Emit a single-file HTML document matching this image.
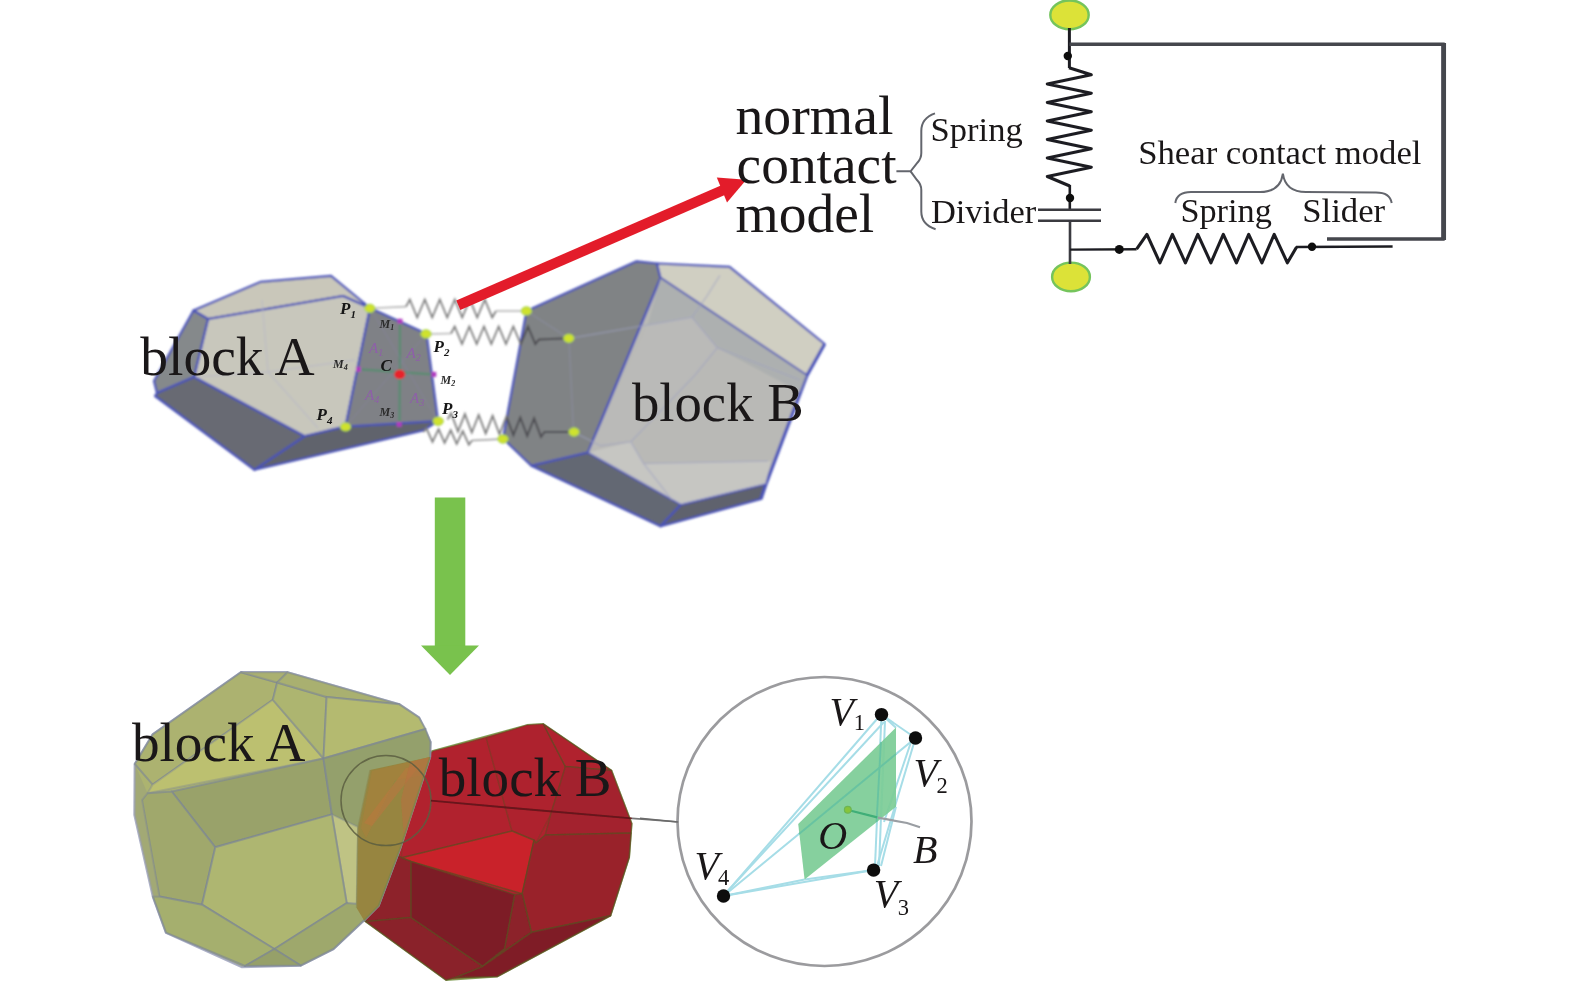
<!DOCTYPE html>
<html lang="en">
<head>
<meta charset="utf-8">
<title>Block contact model</title>
<style>
html,body{margin:0;padding:0;background:#fff;}
body{width:1575px;height:983px;overflow:hidden;position:relative;}
svg{position:absolute;left:0;top:0;display:block;}
text{font-family:"Liberation Serif","Times New Roman",serif;fill:#1a1718;}
.big{font-size:55.5px;}
.mid{font-size:34.5px;}
.vi{font-size:40px;font-style:italic;}
.sub{font-size:22.5px;font-style:normal;}
.tiny{font-size:17px;font-style:italic;font-weight:bold;fill:#151515;}
.tinym{font-size:12px;font-style:italic;font-weight:bold;fill:#2a2a2a;}
.pa{font-size:15px;font-style:italic;fill:#9355b3;opacity:.8;}
</style>
</head>
<body>
<svg width="1575" height="983" viewBox="0 0 1575 983">
<defs>
<filter id="b1" x="-5%" y="-5%" width="110%" height="110%"><feGaussianBlur stdDeviation="0.9"/></filter>
<filter id="b2" x="-5%" y="-5%" width="110%" height="110%"><feGaussianBlur stdDeviation="0.7"/></filter>
<filter id="b3" x="-5%" y="-5%" width="110%" height="110%"><feGaussianBlur stdDeviation="0.5"/></filter>
</defs>
<rect width="1575" height="983" fill="#ffffff"/>

<g filter="url(#b1)" stroke-linejoin="round">
<g stroke="#4a52b8" stroke-width="2.2">
<polygon points="193.5,310.5 261,281.8 331,275.9 370,308 343,296 208,319" fill="#c9c7ba"/>
<polygon points="208,319 343,296 370,308 345.5,426.5 304.5,436.3 194,377" fill="#c8c7bc"/>
<polygon points="193.5,310.5 208,319 194,377 157,393 154,381" fill="#85898b"/>
<polygon points="157,393 194,377 304.5,436.3 254.5,469.8 155,396" fill="#676a73"/>
<polygon points="304.5,436.3 345.5,426.5 438,421 423,430.5 254.5,469.8" fill="#60636c"/>
<polygon points="370,308 426.5,333.8 438,421 345.5,426.5" fill="#7f8186"/>
</g>
<g stroke="#b9b9c6" stroke-width="1.4" fill="none" opacity=".7"><path d="M262,300 L268,372 L196,377"/><path d="M268,372 L318,428"/><path d="M268,372 L355,360"/></g>
<g stroke="#4a52b8" stroke-width="2.2">
<polygon points="526.5,311 636.6,261.3 657,263.5 660.5,278 588,452.5 531.4,465.7 503,438.5" fill="#808385"/>
<polygon points="657,263.5 729.5,266.8 824.6,344 806.7,375.3 660.5,278" fill="#d0cfc2"/>
<polygon points="660.5,278 806.7,375.3 765.7,484 681,504.6 588,452.5" fill="#b9b9b6"/>
<polygon points="531.4,465.7 588,452.5 681,504.6 660.6,526.3" fill="#646873"/>
<polygon points="681,504.6 765.7,484 761,499 660.6,526.3" fill="#5f626d"/>
<polyline points="824.6,344 806.7,376 765.7,485 761,499" fill="none" stroke-width="3.2"/>
</g>
<clipPath id="cBf"><polygon points="660.5,278 806.7,375.3 765.7,484 681,504.6 588,452.5"/></clipPath>
<g clip-path="url(#cBf)" stroke="none">
<polygon points="660.5,278 806.7,375.3 800,392 717.3,347.7 691.9,317.2 647.4,324.9" fill="#a9adae" opacity=".75"/>
<polygon points="588,452.5 630.9,441.8 643.6,463.5 770.7,460.9 765.7,484 681,504.6" fill="#cbcbc5" opacity=".75"/>
<polygon points="588,452.5 600.3,445.7 630.9,441.8 694.4,375.7 717.3,347.7 691.9,317.2 647.4,324.9" fill="#bcbcb9" opacity=".5"/>
</g>
<g stroke="#9fa2c0" stroke-width="1.5" fill="none" opacity=".55">
<path d="M569,338.4 L647.4,324.9 L691.9,317.2 L717.3,347.7 L694.4,375.7 L630.9,441.8 L600.3,445.7 L573.5,432"/>
<path d="M630.9,441.8 L643.6,463.5 L768,460.9"/>
<path d="M717.3,347.7 L800,380"/>
<path d="M719.9,275.3 L707.2,295.6 L691.9,317.2"/>
<path d="M643.6,463.5 L672,500"/>
</g>
<g stroke="#8f92aa" stroke-width="1.4" fill="none" opacity=".5">
<path d="M526.5,311 L569,338.4 L573.5,432"/>
</g>
<g stroke="#4f8f6c" stroke-width="2" fill="none" opacity=".9"><path d="M400,321.3 L399.5,424.3"/><path d="M358.5,369.3 L433.8,374.4"/></g>
<g stroke="#8a84a8" stroke-width="1" opacity=".45" fill="none"><path d="M370,308 L438,421 M426.5,333.8 L345.5,426.5"/></g>
<rect x="397.5" y="318.8" width="5" height="5" fill="#b03ac0"/>
<rect x="356.0" y="366.8" width="5" height="5" fill="#b03ac0"/>
<rect x="431.3" y="371.9" width="5" height="5" fill="#b03ac0"/>
<rect x="396.7" y="421.8" width="5" height="5" fill="#b03ac0"/>
<ellipse cx="399.7" cy="374.4" rx="5.5" ry="4.6" fill="#e8212a"/>
<polyline points="372.0,308.2 406.0,306.6" fill="none" stroke="#b5b5b5" stroke-width="1.6" opacity="1" stroke-linejoin="miter"/>
<polyline points="406.0,306.6 409.8,299.5 417.2,317.5 424.8,299.5 432.2,317.5 439.8,299.5 447.2,317.5 454.8,299.5 462.2,317.5 469.8,299.5 477.2,317.5 484.8,299.5 492.2,317.5 496.0,311.0" fill="none" stroke="#7d7d7d" stroke-width="1.8" opacity="1" stroke-linejoin="miter"/>
<polyline points="496.0,311.0 526.4,311.0" fill="none" stroke="#b5b5b5" stroke-width="1.6" opacity="1" stroke-linejoin="miter"/>
<polyline points="428.0,334.0 451.0,333.5" fill="none" stroke="#b5b5b5" stroke-width="1.6" opacity="1" stroke-linejoin="miter"/>
<polyline points="451.0,333.5 454.7,326.5 462.0,344.0 469.3,326.5 476.7,344.0 484.0,326.5 491.3,344.0 498.7,326.5 506.0,344.0 513.3,326.5 520.7,344.0 528.0,326.5 535.3,344.0 539.0,339.5" fill="none" stroke="#7d7d7d" stroke-width="1.8" opacity="1" stroke-linejoin="miter"/>
<polyline points="539.0,339.5 568.8,338.3" fill="none" stroke="#777" stroke-width="1.6" opacity="1" stroke-linejoin="miter"/>
<polyline points="447.6,419.5 451.1,413.2 458.0,431.6 464.9,414.1 471.8,432.5 478.7,414.9 485.7,433.4 492.6,415.8 499.5,434.2 506.4,416.6 513.4,435.1 520.3,417.5 527.2,435.9 534.1,418.4 541.0,436.8 544.5,432.0" fill="none" stroke="#7d7d7d" stroke-width="1.8" opacity="1" stroke-linejoin="miter"/>
<polyline points="544.5,432.0 574.0,432.0" fill="none" stroke="#777" stroke-width="1.6" opacity="1" stroke-linejoin="miter"/>
<polyline points="423.4,432.0 426.4,428.2 432.5,441.8 438.6,429.2 444.6,442.8 450.7,430.2 456.7,443.8 462.8,431.2 468.9,444.8 471.9,440.5" fill="none" stroke="#7d7d7d" stroke-width="1.8" opacity="1" stroke-linejoin="miter"/>
<polyline points="471.9,440.5 503.0,439.0" fill="none" stroke="#999" stroke-width="1.6" opacity="1" stroke-linejoin="miter"/>
<clipPath id="cB"><polygon points="526.5,311 636.6,261.3 657,263.5 660.5,278 588,452.5 531.4,465.7 503,438.5"/></clipPath>
<g clip-path="url(#cB)">
<polyline points="428.0,334.0 451.0,333.5 454.7,326.5 462.0,344.0 469.3,326.5 476.7,344.0 484.0,326.5 491.3,344.0 498.7,326.5 506.0,344.0 513.3,326.5 520.7,344.0 528.0,326.5 535.3,344.0 539.0,339.5 568.8,338.3" fill="none" stroke="#4e4e52" stroke-width="2" stroke-linejoin="miter"/>
<polyline points="440.0,421.0 447.6,419.5 451.1,413.2 458.0,431.6 464.9,414.1 471.8,432.5 478.7,414.9 485.7,433.4 492.6,415.8 499.5,434.2 506.4,416.6 513.4,435.1 520.3,417.5 527.2,435.9 534.1,418.4 541.0,436.8 544.5,432.0 574.0,432.0" fill="none" stroke="#4e4e52" stroke-width="2" stroke-linejoin="miter"/>
</g>
<ellipse cx="369.8" cy="308.4" rx="5.2" ry="4.2" fill="#cfe22e" stroke="#9fd04a" stroke-width="1"/>
<ellipse cx="426.0" cy="334.0" rx="5.2" ry="4.2" fill="#cfe22e" stroke="#9fd04a" stroke-width="1"/>
<ellipse cx="438.1" cy="421.2" rx="5.2" ry="4.2" fill="#cfe22e" stroke="#9fd04a" stroke-width="1"/>
<ellipse cx="345.6" cy="426.9" rx="5.2" ry="4.2" fill="#cfe22e" stroke="#9fd04a" stroke-width="1"/>
<ellipse cx="526.4" cy="311.0" rx="5.2" ry="4.2" fill="#cfe22e" stroke="#9fd04a" stroke-width="1"/>
<ellipse cx="568.8" cy="338.3" rx="5.2" ry="4.2" fill="#cfe22e" stroke="#9fd04a" stroke-width="1"/>
<ellipse cx="574.0" cy="432.0" rx="5.2" ry="4.2" fill="#cfe22e" stroke="#9fd04a" stroke-width="1"/>
<ellipse cx="503.0" cy="439.0" rx="5.2" ry="4.2" fill="#cfe22e" stroke="#9fd04a" stroke-width="1"/>
</g>
<g filter="url(#b2)">
<text x="340.0" y="314.0" class="tiny">P<tspan dy="4" font-size="11">1</tspan></text>
<text x="433.5" y="352.0" class="tiny">P<tspan dy="4" font-size="11">2</tspan></text>
<text x="442.0" y="413.5" class="tiny">P<tspan dy="4" font-size="11">3</tspan></text>
<text x="316.5" y="419.5" class="tiny">P<tspan dy="4" font-size="11">4</tspan></text>
<text x="379.5" y="327.5" class="tinym">M<tspan dy="2" font-size="8">1</tspan></text>
<text x="440.5" y="383.5" class="tinym">M<tspan dy="2" font-size="8">2</tspan></text>
<text x="379.5" y="416.0" class="tinym">M<tspan dy="2" font-size="8">3</tspan></text>
<text x="333.0" y="368.0" class="tinym">M<tspan dy="2" font-size="8">4</tspan></text>
<text x="380.5" y="371" class="tiny" font-size="18">C</text>
<text x="369.0" y="352.5" class="pa">A<tspan dy="3" font-size="10">1</tspan></text>
<text x="406.5" y="358.0" class="pa">A<tspan dy="3" font-size="10">2</tspan></text>
<text x="410.0" y="403.0" class="pa">A<tspan dy="3" font-size="10">3</tspan></text>
<text x="365.0" y="400.0" class="pa">A<tspan dy="3" font-size="10">4</tspan></text>
</g>
<g filter="url(#b3)" fill="#e31f2a" stroke="none">
<line x1="458.3" y1="305.3" x2="724" y2="189.8" stroke="#e31f2a" stroke-width="10.2"/>
<polygon points="746.3,179.8 716.8,177.6 727,202.4"/>
</g>
<g filter="url(#b3)" fill="#79c24d">
<rect x="434.8" y="497.5" width="30.5" height="149"/>
<polygon points="421,645.5 479,645.5 450,675"/>
</g>
<g filter="url(#b2)" stroke-linejoin="round">
<g stroke="#5e4a22" stroke-width="1.5" stroke-opacity=".7">
<polygon points="370.0,770.0 432.9,750.9 527.0,725.0 543.3,724.0 611.5,770.5 631.7,823.6 629.2,857.2 610.5,915.7 497.3,976.5 446.0,980.0 364.0,920.3 356.6,908.0 357.9,827.5" fill="#ae232e" stroke="#71913f" stroke-width="1.8" stroke-opacity=".85"/>
<polygon points="432.9,750.9 486.3,738 510.2,825.5 512,831 401.6,857.7 405,800" fill="#b1242f" stroke-opacity=".25"/>
<polygon points="486.3,738 527,725 543.3,724 565.4,766.6 550.7,814.4 536,843 534,840.3 512,831" fill="#ae232e" stroke-opacity=".3"/>
<polygon points="543.3,724 611.5,770.5 565.4,766.6" fill="#b0242f"/>
<polygon points="565.4,766.6 611.5,770.5 631.7,823.6 631,833 545.2,835 550.7,814.4" fill="#a3232d" stroke-opacity=".5"/>
<polygon points="401.6,857.7 512,831 534,840.3 522.2,893.7 410.8,861.4" fill="#c9242a"/>
<polygon points="545.2,835 631,833 629.2,857.2 610.5,915.7 531.4,932.3 522.2,893.7 534,840.3 536,843" fill="#99242b"/>
<polygon points="410.8,861.4 514.8,894.6 504.7,948.9 482.6,966.4 410.8,917.6" fill="#7d1e27"/>
<polygon points="514.8,894.6 522.2,893.7 531.4,932.3 482.6,966.4 504.7,948.9" fill="#8c2029"/>
<polygon points="531.4,932.3 610.5,915.7 497.3,976.5 455,977.5 482.6,966.4" fill="#7f1e27"/>
<polygon points="401.6,857.7 410.8,861.4 410.8,917.6 366.6,921.5 356.6,908 357.9,827.5" fill="#8d2129"/>
<polygon points="366.6,921.5 410.8,917.6 482.6,966.4 455,977.5 446,980 364,920.3" fill="#8a2029"/>
</g>
<polygon points="241.0,672.3 287.5,672.3 399.3,704.3 419.0,717.5 430.5,742.0 430.0,757.0 400.6,847.0 378.6,905.6 364.0,920.3 333.5,949.0 300.7,965.5 241.6,967.0 166.0,932.7 152.9,896.5 134.5,815.0 134.8,764.0 152.7,734.4" fill="#acb370" stroke="#9da2bd" stroke-width="2.4" stroke-opacity=".85"/>
<g stroke="#7c8596" stroke-width="2" stroke-opacity=".6">
<polygon points="241.0,672.3 277.2,682.5 272.9,699.8 152.7,784.6 134.8,764.0 152.7,734.4" fill="#acb270"/>
<polygon points="241.0,672.3 287.5,672.3 277.2,682.5" fill="#aab06f" stroke-opacity=".4"/>
<polygon points="272.9,699.8 323.5,758.5 147.5,793.2 152.7,784.6" fill="#bcc070" stroke-opacity=".35"/>
<polygon points="277.2,682.5 326.6,697.0 323.5,758.5 272.9,699.8" fill="#adb570" stroke-opacity=".5"/>
<polygon points="287.5,672.3 399.3,704.3 326.6,697.0 277.2,682.5" fill="#a9b06f" stroke-opacity=".5"/>
<polygon points="326.6,697.0 399.3,704.3 419.0,717.5 425.5,729.0 323.5,758.5" fill="#b4ba70"/>
<polygon points="171.7,791.5 323.5,758.5 331.9,814.4 215.3,847.3" fill="#99a26b"/>
<polygon points="147.5,793.2 171.7,791.5 215.3,847.3 202.0,904.7 159.4,896.5 142.0,800.0" fill="#a0a86c"/>
<polygon points="323.5,758.5 425.5,729.0 430.5,742.0 430.0,757.0 400.6,847.0 378.6,905.6 346.7,903.0 331.9,814.4" fill="#94a06c"/>
<polygon points="331.9,814.4 358.0,827.0 356.6,908.0 364.0,920.3 346.7,903.0" fill="#bfc384" stroke-opacity=".35"/>
<polygon points="215.3,847.3 331.9,814.4 346.7,903.0 274.4,949.0 202.0,904.7" fill="#aeb671"/>
<polygon points="159.4,896.5 202.0,904.7 274.4,949.0 245.0,966.0 166.0,932.7 152.9,896.5" fill="#a5af6e"/>
<polygon points="274.4,949.0 346.7,903.0 378.6,905.6 364.0,920.3 333.5,949.0 300.7,965.5" fill="#9ea86c"/>
<polygon points="274.4,949.0 300.7,965.5 245.0,966.0" fill="#96a069"/>
</g>
<polygon points="134.8,764.0 134.5,815.0 152.9,896.5 159.4,896.5 142.0,800.0 147.5,793.2" fill="#9aa07a" opacity=".55"/>
<polygon points="370.0,770.0 430.0,757.0 400.6,847.0 378.6,905.6 364.0,920.3 356.6,908.0 357.9,827.5" fill="#97853f"/>
<polygon points="430,757 424,775 395,780 366,838 361,828 372,771" fill="#a5803f" opacity=".7"/>
<polygon points="406,768 420,765 372,826 364,823" fill="#b9773f" opacity=".6"/>
<polygon points="430,757 420,790 404,840 401,800 410,762" fill="#b8703f" opacity=".55"/>
<polyline points="430.0,757.0 400.6,847.0 378.6,905.6 364.0,920.3" fill="none" stroke="#7d8448" stroke-width="1.6" opacity=".8"/>
<polyline points="370.0,770.0 357.9,827.5 356.6,908.0" fill="none" stroke="#8d8f58" stroke-width="1.4" opacity=".7"/>
<circle cx="386" cy="800.6" r="45" fill="none" stroke="#5a5d40" stroke-width="1.5" opacity=".85"/>
<path d="M431,800.6 L512,808 L632,818.4" fill="none" stroke="#5c1018" stroke-width="1.9" opacity=".85"/>
<path d="M632,818.4 L679,822" fill="none" stroke="#777" stroke-width="1.6"/>
</g>
<g filter="url(#b3)">
<ellipse cx="824.5" cy="821.5" rx="147" ry="144.5" fill="none" stroke="#9b9b9e" stroke-width="2.7"/>
<line x1="640" y1="818.3" x2="678" y2="822" stroke="#6a6a6a" stroke-width="1.6"/>
<g stroke="#a6dde7" stroke-width="2" fill="none">
<path d="M877.0,719.0 L727.0,892.0"/>
<path d="M884.0,722.0 L725.0,894.0"/>
<path d="M915.5,738.0 L723.5,896.0"/>
<path d="M881.5,714.6 L915.5,738.0"/>
<path d="M881.5,714.6 L875.0,866.0"/>
<path d="M885.0,721.0 L879.0,866.0"/>
<path d="M915.5,738.0 L877.0,866.0"/>
<path d="M911.0,742.0 L884.0,822.0"/>
<path d="M873.6,870.1 L723.5,896.0"/>
<path d="M723.5,896.0 L804.6,879.4"/>
<path d="M804.6,879.4 L873.6,870.1"/>
<path d="M881.5,714.6 L896.0,727.8"/>
<path d="M896.0,806.8 L881.0,866.0"/>
</g>
<polygon points="896,727.5 896,806.8 804.6,879.4 798.2,823.9" fill="#7ccc97" fill-opacity=".93"/>
<g stroke="#5fbfa4" stroke-width="1.8" opacity=".7" fill="none">
<path d="M881.0,742.0 L876.5,822.0"/>
<path d="M896.0,754.0 L799.0,834.0"/>
</g>
<polyline points="849,810.3 877.2,817.4" fill="none" stroke="#3fae78" stroke-width="2.2"/>
<polyline points="878,817.6 907,823 920,827.2" fill="none" stroke="#9a9ea3" stroke-width="2.2"/>
<circle cx="847.8" cy="809.8" r="3.4" fill="#86c43a" stroke="#6db554" stroke-width="1.2"/>
<circle cx="881.5" cy="714.6" r="6.7" fill="#0a0a0a"/>
<circle cx="915.5" cy="738.0" r="6.7" fill="#0a0a0a"/>
<circle cx="873.6" cy="870.1" r="6.7" fill="#0a0a0a"/>
<circle cx="723.5" cy="896.0" r="6.7" fill="#0a0a0a"/>
</g>
<g filter="url(#b3)">
<ellipse cx="1069.5" cy="14.9" rx="19.2" ry="14.4" fill="#dce237" stroke="#74c45c" stroke-width="2.4"/>
<ellipse cx="1071" cy="276.9" rx="18.9" ry="14.3" fill="#dce237" stroke="#74c45c" stroke-width="2.4"/>
<line x1="1069.4" y1="28" x2="1069.4" y2="68" stroke="#1f1f22" stroke-width="3"/>
<path d="M1069.4,44.2 L1443,44.2 L1443,239 L1327,239" fill="none" stroke="#45464d" stroke-width="3.4" stroke-linejoin="miter"/>
<line x1="1443.8" y1="43" x2="1443.8" y2="240" stroke="#45464d" stroke-width="4.5"/>
<circle cx="1067.8" cy="56" r="4.2" fill="#111"/>
<polyline points="1069.0,67.8 1091.3,74.7 1047.3,84.0 1091.3,93.2 1047.3,102.5 1091.3,111.7 1047.3,121.0 1091.3,130.2 1047.3,139.5 1091.3,148.7 1047.3,158.0 1091.3,167.2 1047.3,176.5 1069.8,186.0" fill="none" stroke="#1f1f22" stroke-width="3.1" stroke-linejoin="round"/>
<line x1="1069.8" y1="185" x2="1069.8" y2="209" stroke="#1f1f22" stroke-width="2.6"/>
<circle cx="1070" cy="198" r="4.2" fill="#111"/>
<line x1="1038" y1="209.7" x2="1101" y2="209.7" stroke="#3a3a40" stroke-width="2.6"/>
<line x1="1038" y1="220.8" x2="1101" y2="220.8" stroke="#3a3a40" stroke-width="2.6"/>
<line x1="1070" y1="220.8" x2="1070" y2="264" stroke="#3a3a40" stroke-width="2.6"/>
<line x1="1070" y1="249.6" x2="1136.6" y2="249.3" stroke="#1f1f22" stroke-width="2.4"/>
<circle cx="1119.3" cy="249.4" r="4.5" fill="#111"/>
<polyline points="1136.6,249.2 1146.9,234.4 1159.9,262.8 1172.4,234.4 1185.4,262.8 1197.8,234.4 1210.9,262.8 1223.3,234.4 1236.4,262.8 1248.7,234.4 1261.9,262.8 1274.2,234.4 1287.4,262.8 1296.6,247.0" fill="none" stroke="#1f1f22" stroke-width="3.1" stroke-linejoin="round"/>
<line x1="1296" y1="247" x2="1392.6" y2="246.5" stroke="#1f1f22" stroke-width="2.4"/>
<circle cx="1312" cy="246.8" r="4.2" fill="#111"/>
<path d="M896.4,171.3 L910.6,171.3 L917.6,162.5 C920.3,159.5 921.3,157 921.3,153 L921.3,131 C921.3,122 926,116.5 935,113.4" fill="none" stroke="#64666d" stroke-width="2"/>
<path d="M910.6,171.3 L917.2,180.3 C920.3,183.5 921.3,186 921.3,190 L921.3,211.5 C921.3,220.5 926,226 935.6,229.3" fill="none" stroke="#64666d" stroke-width="2"/>
<path d="M1175.3,203 C1176.3,196 1181,192 1191,192 L1260,192 C1272,192 1281,187.5 1282.9,173.6 C1284.8,187.5 1294,192 1306,192 L1376,192.4 C1386,192.4 1390.6,196 1391.7,203" fill="none" stroke="#64666d" stroke-width="2"/>
</g>
<text x="140.2" y="374.9" class="big" textLength="174.4" lengthAdjust="spacingAndGlyphs">block A</text>
<text x="631.9" y="421.3" class="big" textLength="171.9" lengthAdjust="spacingAndGlyphs">block B</text>
<text x="131.9" y="760.5" class="big" textLength="173.4" lengthAdjust="spacingAndGlyphs">block A</text>
<text x="438.8" y="796.3" class="big" textLength="172.8" lengthAdjust="spacingAndGlyphs">block B</text>
<text x="735.5" y="134.3" class="big" textLength="157.9" lengthAdjust="spacingAndGlyphs">normal</text>
<text x="736.6" y="183.1" class="big" textLength="160.0" lengthAdjust="spacingAndGlyphs">contact</text>
<text x="735.5" y="231.5" class="big" textLength="138.7" lengthAdjust="spacingAndGlyphs">model</text>
<text x="930.6" y="141.0" class="mid" textLength="92.1" lengthAdjust="spacingAndGlyphs">Spring</text>
<text x="930.9" y="222.5" class="mid" textLength="105.3" lengthAdjust="spacingAndGlyphs">Divider</text>
<text x="1138.2" y="164.1" class="mid" textLength="283.3" lengthAdjust="spacingAndGlyphs">Shear contact model</text>
<text x="1180.4" y="222.0" class="mid" textLength="91.4" lengthAdjust="spacingAndGlyphs">Spring</text>
<text x="1302.3" y="221.9" class="mid" textLength="82.8" lengthAdjust="spacingAndGlyphs">Slider</text>
<text x="829.6" y="725.0" class="vi">V</text><text x="853.8" y="730.3" class="sub">1</text>
<text x="913.5" y="785.6" class="vi">V</text><text x="936.4" y="792.9" class="sub">2</text>
<text x="873.8" y="907.4" class="vi">V</text><text x="897.8" y="914.5" class="sub">3</text>
<text x="694.4" y="879.0" class="vi">V</text><text x="718.0" y="885.2" class="sub">4</text>
<text x="818.2" y="848.8" class="vi">O</text>
<text x="913" y="863.2" class="vi">B</text>
</svg>
</body>
</html>
